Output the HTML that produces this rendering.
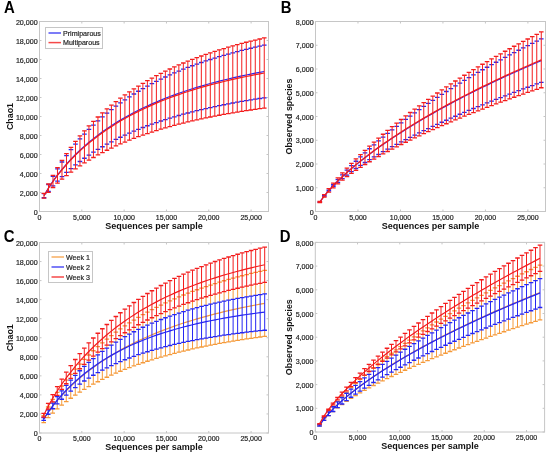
<!DOCTYPE html>
<html><head><meta charset="utf-8"><style>
html,body{margin:0;padding:0;background:#fff;}
svg{display:block;font-family:"Liberation Sans",sans-serif;will-change:transform;}
</style></head><body>
<svg width="550" height="454" viewBox="0 0 550 454">
<rect x="0" y="0" width="550" height="454" fill="#fff"/>
<text transform="translate(4.0,13.3) scale(0.95,1)" font-size="15.7" font-weight="bold" fill="#000">A</text>
<rect x="39.5" y="21.5" width="229" height="190" fill="none" stroke="#c6c6c6" stroke-width="1"/>
<line x1="39.50" y1="211.5" x2="39.50" y2="209.5" stroke="#c6c6c6" stroke-width="1"/>
<line x1="39.50" y1="21.5" x2="39.50" y2="23.5" stroke="#c6c6c6" stroke-width="1"/>
<text x="39.50" y="219.80" font-size="7" fill="#222222" stroke="#222222" stroke-width="0.18" text-anchor="middle">0</text>
<line x1="81.82" y1="211.5" x2="81.82" y2="209.5" stroke="#c6c6c6" stroke-width="1"/>
<line x1="81.82" y1="21.5" x2="81.82" y2="23.5" stroke="#c6c6c6" stroke-width="1"/>
<text x="81.82" y="219.80" font-size="7" fill="#222222" stroke="#222222" stroke-width="0.18" text-anchor="middle">5,000</text>
<line x1="124.14" y1="211.5" x2="124.14" y2="209.5" stroke="#c6c6c6" stroke-width="1"/>
<line x1="124.14" y1="21.5" x2="124.14" y2="23.5" stroke="#c6c6c6" stroke-width="1"/>
<text x="124.14" y="219.80" font-size="7" fill="#222222" stroke="#222222" stroke-width="0.18" text-anchor="middle">10,000</text>
<line x1="166.46" y1="211.5" x2="166.46" y2="209.5" stroke="#c6c6c6" stroke-width="1"/>
<line x1="166.46" y1="21.5" x2="166.46" y2="23.5" stroke="#c6c6c6" stroke-width="1"/>
<text x="166.46" y="219.80" font-size="7" fill="#222222" stroke="#222222" stroke-width="0.18" text-anchor="middle">15,000</text>
<line x1="208.78" y1="211.5" x2="208.78" y2="209.5" stroke="#c6c6c6" stroke-width="1"/>
<line x1="208.78" y1="21.5" x2="208.78" y2="23.5" stroke="#c6c6c6" stroke-width="1"/>
<text x="208.78" y="219.80" font-size="7" fill="#222222" stroke="#222222" stroke-width="0.18" text-anchor="middle">20,000</text>
<line x1="251.10" y1="211.5" x2="251.10" y2="209.5" stroke="#c6c6c6" stroke-width="1"/>
<line x1="251.10" y1="21.5" x2="251.10" y2="23.5" stroke="#c6c6c6" stroke-width="1"/>
<text x="251.10" y="219.80" font-size="7" fill="#222222" stroke="#222222" stroke-width="0.18" text-anchor="middle">25,000</text>
<line x1="39.5" y1="211.50" x2="41.5" y2="211.50" stroke="#c6c6c6" stroke-width="1"/>
<line x1="268.5" y1="211.50" x2="266.5" y2="211.50" stroke="#c6c6c6" stroke-width="1"/>
<text x="37.60" y="214.60" font-size="7.1" fill="#222222" stroke="#222222" stroke-width="0.18" text-anchor="end">0</text>
<line x1="39.5" y1="192.50" x2="41.5" y2="192.50" stroke="#c6c6c6" stroke-width="1"/>
<line x1="268.5" y1="192.50" x2="266.5" y2="192.50" stroke="#c6c6c6" stroke-width="1"/>
<text x="37.60" y="195.60" font-size="7.1" fill="#222222" stroke="#222222" stroke-width="0.18" text-anchor="end">2,000</text>
<line x1="39.5" y1="173.50" x2="41.5" y2="173.50" stroke="#c6c6c6" stroke-width="1"/>
<line x1="268.5" y1="173.50" x2="266.5" y2="173.50" stroke="#c6c6c6" stroke-width="1"/>
<text x="37.60" y="176.60" font-size="7.1" fill="#222222" stroke="#222222" stroke-width="0.18" text-anchor="end">4,000</text>
<line x1="39.5" y1="154.50" x2="41.5" y2="154.50" stroke="#c6c6c6" stroke-width="1"/>
<line x1="268.5" y1="154.50" x2="266.5" y2="154.50" stroke="#c6c6c6" stroke-width="1"/>
<text x="37.60" y="157.60" font-size="7.1" fill="#222222" stroke="#222222" stroke-width="0.18" text-anchor="end">6,000</text>
<line x1="39.5" y1="135.50" x2="41.5" y2="135.50" stroke="#c6c6c6" stroke-width="1"/>
<line x1="268.5" y1="135.50" x2="266.5" y2="135.50" stroke="#c6c6c6" stroke-width="1"/>
<text x="37.60" y="138.60" font-size="7.1" fill="#222222" stroke="#222222" stroke-width="0.18" text-anchor="end">8,000</text>
<line x1="39.5" y1="116.50" x2="41.5" y2="116.50" stroke="#c6c6c6" stroke-width="1"/>
<line x1="268.5" y1="116.50" x2="266.5" y2="116.50" stroke="#c6c6c6" stroke-width="1"/>
<text x="37.60" y="119.60" font-size="7.1" fill="#222222" stroke="#222222" stroke-width="0.18" text-anchor="end">10,000</text>
<line x1="39.5" y1="97.50" x2="41.5" y2="97.50" stroke="#c6c6c6" stroke-width="1"/>
<line x1="268.5" y1="97.50" x2="266.5" y2="97.50" stroke="#c6c6c6" stroke-width="1"/>
<text x="37.60" y="100.60" font-size="7.1" fill="#222222" stroke="#222222" stroke-width="0.18" text-anchor="end">12,000</text>
<line x1="39.5" y1="78.50" x2="41.5" y2="78.50" stroke="#c6c6c6" stroke-width="1"/>
<line x1="268.5" y1="78.50" x2="266.5" y2="78.50" stroke="#c6c6c6" stroke-width="1"/>
<text x="37.60" y="81.60" font-size="7.1" fill="#222222" stroke="#222222" stroke-width="0.18" text-anchor="end">14,000</text>
<line x1="39.5" y1="59.50" x2="41.5" y2="59.50" stroke="#c6c6c6" stroke-width="1"/>
<line x1="268.5" y1="59.50" x2="266.5" y2="59.50" stroke="#c6c6c6" stroke-width="1"/>
<text x="37.60" y="62.60" font-size="7.1" fill="#222222" stroke="#222222" stroke-width="0.18" text-anchor="end">16,000</text>
<line x1="39.5" y1="40.50" x2="41.5" y2="40.50" stroke="#c6c6c6" stroke-width="1"/>
<line x1="268.5" y1="40.50" x2="266.5" y2="40.50" stroke="#c6c6c6" stroke-width="1"/>
<text x="37.60" y="43.60" font-size="7.1" fill="#222222" stroke="#222222" stroke-width="0.18" text-anchor="end">18,000</text>
<line x1="39.5" y1="21.50" x2="41.5" y2="21.50" stroke="#c6c6c6" stroke-width="1"/>
<line x1="268.5" y1="21.50" x2="266.5" y2="21.50" stroke="#c6c6c6" stroke-width="1"/>
<text x="37.60" y="24.60" font-size="7.1" fill="#222222" stroke="#222222" stroke-width="0.18" text-anchor="end">20,000</text>
<path d="" stroke="#2626f2" stroke-width="1" fill="none"/>
<path d="M41.70 193.57H46.30M41.70 197.74H46.30M46.20 184.48H50.79M46.20 191.42H50.79M50.69 176.31H55.29M50.69 185.96H55.29M55.19 168.86H59.78M55.19 181.07H59.78M59.68 161.99H64.28M59.68 176.60H64.28M64.17 155.63H68.77M64.17 172.45H68.77M68.67 149.70H73.27M68.67 168.57H73.27M73.17 144.15H77.77M73.17 164.93H77.77M77.66 138.94H82.26M77.66 161.49H82.26M82.16 134.03H86.75M82.16 158.23H86.75M86.65 129.41H91.25M86.65 155.14H91.25M91.14 125.03H95.74M91.14 152.20H95.74M95.64 120.87H100.24M95.64 149.41H100.24M100.14 116.93H104.73M100.14 146.74H104.73M104.63 113.18H109.23M104.63 144.20H109.23M109.12 109.60H113.72M109.12 141.78H113.72M113.62 106.19H118.22M113.62 139.46H118.22M118.12 102.93H122.72M118.12 137.24H122.72M122.61 99.82H127.21M122.61 135.12H127.21M127.11 96.84H131.71M127.11 133.09H131.71M131.60 93.99H136.20M131.60 131.15H136.20M136.09 91.25H140.69M136.09 129.28H140.69M140.59 88.63H145.19M140.59 127.49H145.19M145.08 86.12H149.69M145.08 125.77H149.69M149.58 83.70H154.18M149.58 124.12H154.18M154.07 81.38H158.68M154.07 122.54H158.68M158.57 79.15H163.17M158.57 121.01H163.17M163.06 77.01H167.67M163.06 119.55H167.67M167.56 74.95H172.16M167.56 118.14H172.16M172.05 72.96H176.66M172.05 116.78H176.66M176.55 71.05H181.15M176.55 115.48H181.15M181.04 69.21H185.65M181.04 114.22H185.65M185.54 67.44H190.14M185.54 113.01H190.14M190.03 65.73H194.64M190.03 111.84H194.64M194.53 64.08H199.13M194.53 110.71H199.13M199.03 62.49H203.63M199.03 109.62H203.63M203.52 60.96H208.12M203.52 108.58H208.12M208.01 59.48H212.62M208.01 107.56H212.62M212.51 58.05H217.11M212.51 106.59H217.11M217.00 56.67H221.61M217.00 105.65H221.61M221.50 55.34H226.10M221.50 104.74H226.10M226.00 54.05H230.60M226.00 103.86H230.60M230.49 52.81H235.09M230.49 103.01H235.09M234.98 51.61H239.59M234.98 102.19H239.59M239.48 50.45H244.08M239.48 101.39H244.08M243.97 49.33H248.58M243.97 100.63H248.58M248.47 48.25H253.07M248.47 99.89H253.07M252.97 47.20H257.56M252.97 99.17H257.56M257.46 46.18H262.06M257.46 98.48H262.06M261.95 45.20H266.56M261.95 97.80H266.56" stroke="#2626f2" stroke-width="1.3" fill="none"/>
<polyline points="44.00,195.65 48.49,187.95 52.99,181.14 57.48,174.97 61.98,169.30 66.47,164.04 70.97,159.13 75.47,154.54 79.96,150.21 84.45,146.13 88.95,142.27 93.44,138.61 97.94,135.14 102.44,131.84 106.93,128.69 111.42,125.69 115.92,122.83 120.42,120.09 124.91,117.47 129.41,114.97 133.90,112.57 138.39,110.27 142.89,108.06 147.38,105.95 151.88,103.91 156.38,101.96 160.87,100.08 165.37,98.28 169.86,96.54 174.35,94.87 178.85,93.26 183.34,91.71 187.84,90.22 192.34,88.78 196.83,87.39 201.33,86.06 205.82,84.77 210.31,83.52 214.81,82.32 219.31,81.16 223.80,80.04 228.30,78.96 232.79,77.91 237.28,76.90 241.78,75.92 246.28,74.98 250.77,74.07 255.27,73.18 259.76,72.33 264.25,71.50" stroke="#2626f2" stroke-width="1.2" fill="none"/>
<path d="M44.00 193.44V198.21M48.49 184.00V192.42M52.99 175.43V187.51M57.48 167.56V183.17M61.98 160.30V179.21M66.47 153.57V175.55M70.97 147.30V172.11M75.47 141.44V168.88M79.96 135.96V165.81M84.45 130.80V162.90M88.95 125.94V160.12M93.44 121.34V157.48M97.94 116.99V154.96M102.44 112.86V152.56M106.93 108.93V150.26M111.42 105.19V148.06M115.92 101.62V145.96M120.42 98.22V143.95M124.91 94.97V142.03M129.41 91.86V140.19M133.90 88.88V138.42M138.39 86.03V136.72M142.89 83.29V135.10M147.38 80.66V133.54M151.88 78.14V132.04M156.38 75.72V130.59M160.87 73.39V129.21M165.37 71.16V127.88M169.86 69.00V126.60M174.35 66.93V125.36M178.85 64.94V124.17M183.34 63.02V123.03M187.84 61.17V121.93M192.34 59.38V120.86M196.83 57.66V119.84M201.33 56.01V118.85M205.82 54.41V117.90M210.31 52.86V116.98M214.81 51.37V116.09M219.31 49.93V115.23M223.80 48.55V114.41M228.30 47.20V113.61M232.79 45.91V112.83M237.28 44.65V112.09M241.78 43.44V111.37M246.28 42.27V110.67M250.77 41.14V110.00M255.27 40.05V109.34M259.76 38.99V108.71M264.25 37.96V108.10" stroke="#f31c1c" stroke-width="1" fill="none"/>
<path d="M41.70 193.44H46.30M41.70 198.21H46.30M46.20 184.00H50.79M46.20 192.42H50.79M50.69 175.43H55.29M50.69 187.51H55.29M55.19 167.56H59.78M55.19 183.17H59.78M59.68 160.30H64.28M59.68 179.21H64.28M64.17 153.57H68.77M64.17 175.55H68.77M68.67 147.30H73.27M68.67 172.11H73.27M73.17 141.44H77.77M73.17 168.88H77.77M77.66 135.96H82.26M77.66 165.81H82.26M82.16 130.80H86.75M82.16 162.90H86.75M86.65 125.94H91.25M86.65 160.12H91.25M91.14 121.34H95.74M91.14 157.48H95.74M95.64 116.99H100.24M95.64 154.96H100.24M100.14 112.86H104.73M100.14 152.56H104.73M104.63 108.93H109.23M104.63 150.26H109.23M109.12 105.19H113.72M109.12 148.06H113.72M113.62 101.62H118.22M113.62 145.96H118.22M118.12 98.22H122.72M118.12 143.95H122.72M122.61 94.97H127.21M122.61 142.03H127.21M127.11 91.86H131.71M127.11 140.19H131.71M131.60 88.88H136.20M131.60 138.42H136.20M136.09 86.03H140.69M136.09 136.72H140.69M140.59 83.29H145.19M140.59 135.10H145.19M145.08 80.66H149.69M145.08 133.54H149.69M149.58 78.14H154.18M149.58 132.04H154.18M154.07 75.72H158.68M154.07 130.59H158.68M158.57 73.39H163.17M158.57 129.21H163.17M163.06 71.16H167.67M163.06 127.88H167.67M167.56 69.00H172.16M167.56 126.60H172.16M172.05 66.93H176.66M172.05 125.36H176.66M176.55 64.94H181.15M176.55 124.17H181.15M181.04 63.02H185.65M181.04 123.03H185.65M185.54 61.17H190.14M185.54 121.93H190.14M190.03 59.38H194.64M190.03 120.86H194.64M194.53 57.66H199.13M194.53 119.84H199.13M199.03 56.01H203.63M199.03 118.85H203.63M203.52 54.41H208.12M203.52 117.90H208.12M208.01 52.86H212.62M208.01 116.98H212.62M212.51 51.37H217.11M212.51 116.09H217.11M217.00 49.93H221.61M217.00 115.23H221.61M221.50 48.55H226.10M221.50 114.41H226.10M226.00 47.20H230.60M226.00 113.61H230.60M230.49 45.91H235.09M230.49 112.83H235.09M234.98 44.65H239.59M234.98 112.09H239.59M239.48 43.44H244.08M239.48 111.37H244.08M243.97 42.27H248.58M243.97 110.67H248.58M248.47 41.14H253.07M248.47 110.00H253.07M252.97 40.05H257.56M252.97 109.34H257.56M257.46 38.99H262.06M257.46 108.71H262.06M261.95 37.96H266.56M261.95 108.10H266.56" stroke="#f31c1c" stroke-width="1.3" fill="none"/>
<polyline points="44.00,195.82 48.49,188.21 52.99,181.47 57.48,175.37 61.98,169.76 66.47,164.56 70.97,159.71 75.47,155.16 79.96,150.88 84.45,146.85 88.95,143.03 93.44,139.41 97.94,135.98 102.44,132.71 106.93,129.59 111.42,126.63 115.92,123.79 120.42,121.09 124.91,118.50 129.41,116.02 133.90,113.65 138.39,111.37 142.89,109.19 147.38,107.10 151.88,105.09 156.38,103.16 160.87,101.30 165.37,99.52 169.86,97.80 174.35,96.15 178.85,94.56 183.34,93.02 187.84,91.55 192.34,90.12 196.83,88.75 201.33,87.43 205.82,86.15 210.31,84.92 214.81,83.73 219.31,82.58 223.80,81.48 228.30,80.41 232.79,79.37 237.28,78.37 241.78,77.41 246.28,76.47 250.77,75.57 255.27,74.70 259.76,73.85 264.25,73.03" stroke="#f31c1c" stroke-width="1.2" fill="none"/>
<text x="154.00" y="228.70" font-size="9" font-weight="bold" fill="#111" text-anchor="middle">Sequences per sample</text>
<text transform="translate(12.90,116.50) rotate(-90)" font-size="8.9" font-weight="bold" fill="#111" text-anchor="middle">Chao1</text>
<rect x="45.5" y="27.5" width="57" height="21" fill="#fff" stroke="#c6c6c6" stroke-width="1"/>
<line x1="48.5" y1="33.00" x2="61.0" y2="33.00" stroke="#2626f2" stroke-width="1.5" stroke-opacity="0.8"/>
<text x="63.0" y="35.60" font-size="7.1" fill="#222222" stroke="#222222" stroke-width="0.18">Primiparous</text>
<line x1="48.5" y1="42.60" x2="61.0" y2="42.60" stroke="#f31c1c" stroke-width="1.5" stroke-opacity="0.8"/>
<text x="63.0" y="45.20" font-size="7.1" fill="#222222" stroke="#222222" stroke-width="0.18">Multiparous</text>
<text transform="translate(280.8,13.3) scale(0.95,1)" font-size="15.7" font-weight="bold" fill="#000">B</text>
<rect x="315.5" y="21.5" width="230" height="190" fill="none" stroke="#c6c6c6" stroke-width="1"/>
<line x1="315.50" y1="211.5" x2="315.50" y2="209.5" stroke="#c6c6c6" stroke-width="1"/>
<line x1="315.50" y1="21.5" x2="315.50" y2="23.5" stroke="#c6c6c6" stroke-width="1"/>
<text x="315.50" y="219.80" font-size="7" fill="#222222" stroke="#222222" stroke-width="0.18" text-anchor="middle">0</text>
<line x1="357.98" y1="211.5" x2="357.98" y2="209.5" stroke="#c6c6c6" stroke-width="1"/>
<line x1="357.98" y1="21.5" x2="357.98" y2="23.5" stroke="#c6c6c6" stroke-width="1"/>
<text x="357.98" y="219.80" font-size="7" fill="#222222" stroke="#222222" stroke-width="0.18" text-anchor="middle">5,000</text>
<line x1="400.46" y1="211.5" x2="400.46" y2="209.5" stroke="#c6c6c6" stroke-width="1"/>
<line x1="400.46" y1="21.5" x2="400.46" y2="23.5" stroke="#c6c6c6" stroke-width="1"/>
<text x="400.46" y="219.80" font-size="7" fill="#222222" stroke="#222222" stroke-width="0.18" text-anchor="middle">10,000</text>
<line x1="442.94" y1="211.5" x2="442.94" y2="209.5" stroke="#c6c6c6" stroke-width="1"/>
<line x1="442.94" y1="21.5" x2="442.94" y2="23.5" stroke="#c6c6c6" stroke-width="1"/>
<text x="442.94" y="219.80" font-size="7" fill="#222222" stroke="#222222" stroke-width="0.18" text-anchor="middle">15,000</text>
<line x1="485.42" y1="211.5" x2="485.42" y2="209.5" stroke="#c6c6c6" stroke-width="1"/>
<line x1="485.42" y1="21.5" x2="485.42" y2="23.5" stroke="#c6c6c6" stroke-width="1"/>
<text x="485.42" y="219.80" font-size="7" fill="#222222" stroke="#222222" stroke-width="0.18" text-anchor="middle">20,000</text>
<line x1="527.90" y1="211.5" x2="527.90" y2="209.5" stroke="#c6c6c6" stroke-width="1"/>
<line x1="527.90" y1="21.5" x2="527.90" y2="23.5" stroke="#c6c6c6" stroke-width="1"/>
<text x="527.90" y="219.80" font-size="7" fill="#222222" stroke="#222222" stroke-width="0.18" text-anchor="middle">25,000</text>
<line x1="315.5" y1="211.50" x2="317.5" y2="211.50" stroke="#c6c6c6" stroke-width="1"/>
<line x1="545.5" y1="211.50" x2="543.5" y2="211.50" stroke="#c6c6c6" stroke-width="1"/>
<text x="313.60" y="214.60" font-size="7.1" fill="#222222" stroke="#222222" stroke-width="0.18" text-anchor="end">0</text>
<line x1="315.5" y1="187.75" x2="317.5" y2="187.75" stroke="#c6c6c6" stroke-width="1"/>
<line x1="545.5" y1="187.75" x2="543.5" y2="187.75" stroke="#c6c6c6" stroke-width="1"/>
<text x="313.60" y="190.85" font-size="7.1" fill="#222222" stroke="#222222" stroke-width="0.18" text-anchor="end">1,000</text>
<line x1="315.5" y1="164.00" x2="317.5" y2="164.00" stroke="#c6c6c6" stroke-width="1"/>
<line x1="545.5" y1="164.00" x2="543.5" y2="164.00" stroke="#c6c6c6" stroke-width="1"/>
<text x="313.60" y="167.10" font-size="7.1" fill="#222222" stroke="#222222" stroke-width="0.18" text-anchor="end">2,000</text>
<line x1="315.5" y1="140.25" x2="317.5" y2="140.25" stroke="#c6c6c6" stroke-width="1"/>
<line x1="545.5" y1="140.25" x2="543.5" y2="140.25" stroke="#c6c6c6" stroke-width="1"/>
<text x="313.60" y="143.35" font-size="7.1" fill="#222222" stroke="#222222" stroke-width="0.18" text-anchor="end">3,000</text>
<line x1="315.5" y1="116.50" x2="317.5" y2="116.50" stroke="#c6c6c6" stroke-width="1"/>
<line x1="545.5" y1="116.50" x2="543.5" y2="116.50" stroke="#c6c6c6" stroke-width="1"/>
<text x="313.60" y="119.60" font-size="7.1" fill="#222222" stroke="#222222" stroke-width="0.18" text-anchor="end">4,000</text>
<line x1="315.5" y1="92.75" x2="317.5" y2="92.75" stroke="#c6c6c6" stroke-width="1"/>
<line x1="545.5" y1="92.75" x2="543.5" y2="92.75" stroke="#c6c6c6" stroke-width="1"/>
<text x="313.60" y="95.85" font-size="7.1" fill="#222222" stroke="#222222" stroke-width="0.18" text-anchor="end">5,000</text>
<line x1="315.5" y1="69.00" x2="317.5" y2="69.00" stroke="#c6c6c6" stroke-width="1"/>
<line x1="545.5" y1="69.00" x2="543.5" y2="69.00" stroke="#c6c6c6" stroke-width="1"/>
<text x="313.60" y="72.10" font-size="7.1" fill="#222222" stroke="#222222" stroke-width="0.18" text-anchor="end">6,000</text>
<line x1="315.5" y1="45.25" x2="317.5" y2="45.25" stroke="#c6c6c6" stroke-width="1"/>
<line x1="545.5" y1="45.25" x2="543.5" y2="45.25" stroke="#c6c6c6" stroke-width="1"/>
<text x="313.60" y="48.35" font-size="7.1" fill="#222222" stroke="#222222" stroke-width="0.18" text-anchor="end">7,000</text>
<line x1="315.5" y1="21.50" x2="317.5" y2="21.50" stroke="#c6c6c6" stroke-width="1"/>
<line x1="545.5" y1="21.50" x2="543.5" y2="21.50" stroke="#c6c6c6" stroke-width="1"/>
<text x="313.60" y="24.60" font-size="7.1" fill="#222222" stroke="#222222" stroke-width="0.18" text-anchor="end">8,000</text>
<path d="" stroke="#2626f2" stroke-width="1" fill="none"/>
<path d="M317.50 201.90H322.10M317.50 202.28H322.10M322.02 195.59H326.62M322.02 196.22H326.62M326.54 190.07H331.14M326.54 190.96H331.14M331.06 184.74H335.66M331.06 186.46H335.66M335.58 179.68H340.18M335.58 182.37H340.18M340.10 174.83H344.70M340.10 178.58H344.70M344.62 170.15H349.22M344.62 175.03H349.22M349.14 165.62H353.74M349.14 171.68H353.74M353.66 161.23H358.26M353.66 168.50H358.26M358.18 156.96H362.78M358.18 165.45H362.78M362.70 152.80H367.30M362.70 162.52H367.30M367.22 148.74H371.82M367.22 159.69H371.82M371.74 144.79H376.34M371.74 156.96H376.34M376.26 140.92H380.86M376.26 154.30H380.86M380.78 137.15H385.38M380.78 151.71H385.38M385.30 133.46H389.90M385.30 149.19H389.90M389.82 129.84H394.42M389.82 146.72H394.42M394.34 126.30H398.94M394.34 144.30H398.94M398.86 122.83H403.46M398.86 141.94H403.46M403.38 119.44H407.98M403.38 139.61H407.98M407.90 116.10H412.50M407.90 137.33H412.50M412.42 112.83H417.02M412.42 135.08H417.02M416.94 109.62H421.54M416.94 132.87H421.54M421.46 106.47H426.06M421.46 130.69H426.06M425.98 103.37H430.58M425.98 128.54H430.58M430.50 100.32H435.10M430.50 126.42H435.10M435.02 97.33H439.62M435.02 124.33H439.62M439.54 94.38H444.14M439.54 122.27H444.14M444.06 91.48H448.66M444.06 120.24H448.66M448.58 88.63H453.18M448.58 118.22H453.18M453.10 85.81H457.70M453.10 116.24H457.70M457.62 83.05H462.22M457.62 114.27H462.22M462.14 80.32H466.74M462.14 112.33H466.74M466.66 77.63H471.26M466.66 110.42H471.26M471.18 74.97H475.78M471.18 108.52H475.78M475.70 72.36H480.30M475.70 106.64H480.30M480.22 69.77H484.82M480.22 104.79H484.82M484.74 67.23H489.34M484.74 102.95H489.34M489.26 64.71H493.86M489.26 101.13H493.86M493.78 62.23H498.38M493.78 99.33H498.38M498.30 59.78H502.90M498.30 97.55H502.90M502.82 57.35H507.42M502.82 95.79H507.42M507.34 54.96H511.94M507.34 94.05H511.94M511.86 52.59H516.46M511.86 92.32H516.46M516.38 50.25H520.98M516.38 90.61H520.98M520.90 47.94H525.50M520.90 88.92H525.50M525.42 45.65H530.02M525.42 87.24H530.02M529.94 43.39H534.54M529.94 85.58H534.54M534.46 41.15H539.06M534.46 83.94H539.06M538.98 38.94H543.58M538.98 82.31H543.58" stroke="#2626f2" stroke-width="1.3" fill="none"/>
<polyline points="319.80,202.09 324.32,195.90 328.84,190.51 333.36,185.60 337.88,181.02 342.40,176.70 346.92,172.59 351.44,168.65 355.96,164.86 360.48,161.20 365.00,157.66 369.52,154.22 374.04,150.87 378.56,147.61 383.08,144.43 387.60,141.32 392.12,138.28 396.64,135.30 401.16,132.39 405.68,129.52 410.20,126.71 414.72,123.95 419.24,121.24 423.76,118.58 428.28,115.95 432.80,113.37 437.32,110.83 441.84,108.33 446.36,105.86 450.88,103.43 455.40,101.03 459.92,98.66 464.44,96.33 468.96,94.02 473.48,91.75 478.00,89.50 482.52,87.28 487.04,85.09 491.56,82.92 496.08,80.78 500.60,78.66 505.12,76.57 509.64,74.50 514.16,72.46 518.68,70.43 523.20,68.43 527.72,66.45 532.24,64.49 536.76,62.55 541.28,60.62" stroke="#2626f2" stroke-width="1.2" fill="none"/>
<path d="M319.80 201.44V202.65M324.32 194.67V196.98M328.84 188.67V192.15M333.36 183.12V187.82M337.88 177.88V183.86M342.40 172.87V180.18M346.92 168.06V176.72M351.44 163.42V173.45M355.96 158.92V170.34M360.48 154.54V167.36M365.00 150.28V164.50M369.52 146.13V161.74M374.04 142.07V159.07M378.56 138.11V156.48M383.08 134.23V153.96M387.60 130.43V151.51M392.12 126.71V149.12M396.64 123.06V146.78M401.16 119.48V144.49M405.68 115.97V142.25M410.20 112.52V140.06M414.72 109.13V137.90M419.24 105.80V135.78M423.76 102.53V133.69M428.28 99.31V131.64M432.80 96.14V129.62M437.32 93.02V127.63M441.84 89.95V125.66M446.36 86.93V123.73M450.88 83.95V121.81M455.40 81.01V119.93M459.92 78.12V118.06M464.44 75.27V116.22M468.96 72.46V114.40M473.48 69.68V112.60M478.00 66.95V110.82M482.52 64.25V109.07M487.04 61.58V107.33M491.56 58.95V105.60M496.08 56.35V103.90M500.60 53.78V102.22M505.12 51.24V100.55M509.64 48.73V98.89M514.16 46.26V97.26M518.68 43.81V95.64M523.20 41.39V94.04M527.72 38.99V92.45M532.24 36.62V90.87M536.76 34.28V89.31M541.28 31.96V87.77" stroke="#f31c1c" stroke-width="1" fill="none"/>
<path d="M317.50 201.44H322.10M317.50 202.65H322.10M322.02 194.67H326.62M322.02 196.98H326.62M326.54 188.67H331.14M326.54 192.15H331.14M331.06 183.12H335.66M331.06 187.82H335.66M335.58 177.88H340.18M335.58 183.86H340.18M340.10 172.87H344.70M340.10 180.18H344.70M344.62 168.06H349.22M344.62 176.72H349.22M349.14 163.42H353.74M349.14 173.45H353.74M353.66 158.92H358.26M353.66 170.34H358.26M358.18 154.54H362.78M358.18 167.36H362.78M362.70 150.28H367.30M362.70 164.50H367.30M367.22 146.13H371.82M367.22 161.74H371.82M371.74 142.07H376.34M371.74 159.07H376.34M376.26 138.11H380.86M376.26 156.48H380.86M380.78 134.23H385.38M380.78 153.96H385.38M385.30 130.43H389.90M385.30 151.51H389.90M389.82 126.71H394.42M389.82 149.12H394.42M394.34 123.06H398.94M394.34 146.78H398.94M398.86 119.48H403.46M398.86 144.49H403.46M403.38 115.97H407.98M403.38 142.25H407.98M407.90 112.52H412.50M407.90 140.06H412.50M412.42 109.13H417.02M412.42 137.90H417.02M416.94 105.80H421.54M416.94 135.78H421.54M421.46 102.53H426.06M421.46 133.69H426.06M425.98 99.31H430.58M425.98 131.64H430.58M430.50 96.14H435.10M430.50 129.62H435.10M435.02 93.02H439.62M435.02 127.63H439.62M439.54 89.95H444.14M439.54 125.66H444.14M444.06 86.93H448.66M444.06 123.73H448.66M448.58 83.95H453.18M448.58 121.81H453.18M453.10 81.01H457.70M453.10 119.93H457.70M457.62 78.12H462.22M457.62 118.06H462.22M462.14 75.27H466.74M462.14 116.22H466.74M466.66 72.46H471.26M466.66 114.40H471.26M471.18 69.68H475.78M471.18 112.60H475.78M475.70 66.95H480.30M475.70 110.82H480.30M480.22 64.25H484.82M480.22 109.07H484.82M484.74 61.58H489.34M484.74 107.33H489.34M489.26 58.95H493.86M489.26 105.60H493.86M493.78 56.35H498.38M493.78 103.90H498.38M498.30 53.78H502.90M498.30 102.22H502.90M502.82 51.24H507.42M502.82 100.55H507.42M507.34 48.73H511.94M507.34 98.89H511.94M511.86 46.26H516.46M511.86 97.26H516.46M516.38 43.81H520.98M516.38 95.64H520.98M520.90 41.39H525.50M520.90 94.04H525.50M525.42 38.99H530.02M525.42 92.45H530.02M529.94 36.62H534.54M529.94 90.87H534.54M534.46 34.28H539.06M534.46 89.31H539.06M538.98 31.96H543.58M538.98 87.77H543.58" stroke="#f31c1c" stroke-width="1.3" fill="none"/>
<polyline points="319.80,202.04 324.32,195.83 328.84,190.41 333.36,185.47 337.88,180.87 342.40,176.53 346.92,172.39 351.44,168.44 355.96,164.63 360.48,160.95 365.00,157.39 369.52,153.93 374.04,150.57 378.56,147.29 383.08,144.09 387.60,140.97 392.12,137.91 396.64,134.92 401.16,131.99 405.68,129.11 410.20,126.29 414.72,123.51 419.24,120.79 423.76,118.11 428.28,115.47 432.80,112.88 437.32,110.32 441.84,107.81 446.36,105.33 450.88,102.88 455.40,100.47 459.92,98.09 464.44,95.75 468.96,93.43 473.48,91.14 478.00,88.89 482.52,86.66 487.04,84.45 491.56,82.28 496.08,80.12 500.60,78.00 505.12,75.89 509.64,73.81 514.16,71.76 518.68,69.72 523.20,67.71 527.72,65.72 532.24,63.75 536.76,61.80 541.28,59.87" stroke="#f31c1c" stroke-width="1.2" fill="none"/>
<text x="430.50" y="228.70" font-size="9" font-weight="bold" fill="#111" text-anchor="middle">Sequences per sample</text>
<text transform="translate(292.30,116.50) rotate(-90)" font-size="8.9" font-weight="bold" fill="#111" text-anchor="middle">Observed species</text>
<text transform="translate(3.8,242.2) scale(0.95,1)" font-size="15.7" font-weight="bold" fill="#000">C</text>
<rect x="39.5" y="242.5" width="229" height="190.5" fill="none" stroke="#c6c6c6" stroke-width="1"/>
<line x1="39.50" y1="433.0" x2="39.50" y2="431.0" stroke="#c6c6c6" stroke-width="1"/>
<line x1="39.50" y1="242.5" x2="39.50" y2="244.5" stroke="#c6c6c6" stroke-width="1"/>
<text x="39.50" y="441.30" font-size="7" fill="#222222" stroke="#222222" stroke-width="0.18" text-anchor="middle">0</text>
<line x1="81.82" y1="433.0" x2="81.82" y2="431.0" stroke="#c6c6c6" stroke-width="1"/>
<line x1="81.82" y1="242.5" x2="81.82" y2="244.5" stroke="#c6c6c6" stroke-width="1"/>
<text x="81.82" y="441.30" font-size="7" fill="#222222" stroke="#222222" stroke-width="0.18" text-anchor="middle">5,000</text>
<line x1="124.14" y1="433.0" x2="124.14" y2="431.0" stroke="#c6c6c6" stroke-width="1"/>
<line x1="124.14" y1="242.5" x2="124.14" y2="244.5" stroke="#c6c6c6" stroke-width="1"/>
<text x="124.14" y="441.30" font-size="7" fill="#222222" stroke="#222222" stroke-width="0.18" text-anchor="middle">10,000</text>
<line x1="166.46" y1="433.0" x2="166.46" y2="431.0" stroke="#c6c6c6" stroke-width="1"/>
<line x1="166.46" y1="242.5" x2="166.46" y2="244.5" stroke="#c6c6c6" stroke-width="1"/>
<text x="166.46" y="441.30" font-size="7" fill="#222222" stroke="#222222" stroke-width="0.18" text-anchor="middle">15,000</text>
<line x1="208.78" y1="433.0" x2="208.78" y2="431.0" stroke="#c6c6c6" stroke-width="1"/>
<line x1="208.78" y1="242.5" x2="208.78" y2="244.5" stroke="#c6c6c6" stroke-width="1"/>
<text x="208.78" y="441.30" font-size="7" fill="#222222" stroke="#222222" stroke-width="0.18" text-anchor="middle">20,000</text>
<line x1="251.10" y1="433.0" x2="251.10" y2="431.0" stroke="#c6c6c6" stroke-width="1"/>
<line x1="251.10" y1="242.5" x2="251.10" y2="244.5" stroke="#c6c6c6" stroke-width="1"/>
<text x="251.10" y="441.30" font-size="7" fill="#222222" stroke="#222222" stroke-width="0.18" text-anchor="middle">25,000</text>
<line x1="39.5" y1="433.00" x2="41.5" y2="433.00" stroke="#c6c6c6" stroke-width="1"/>
<line x1="268.5" y1="433.00" x2="266.5" y2="433.00" stroke="#c6c6c6" stroke-width="1"/>
<text x="37.60" y="436.10" font-size="7.1" fill="#222222" stroke="#222222" stroke-width="0.18" text-anchor="end">0</text>
<line x1="39.5" y1="413.95" x2="41.5" y2="413.95" stroke="#c6c6c6" stroke-width="1"/>
<line x1="268.5" y1="413.95" x2="266.5" y2="413.95" stroke="#c6c6c6" stroke-width="1"/>
<text x="37.60" y="417.05" font-size="7.1" fill="#222222" stroke="#222222" stroke-width="0.18" text-anchor="end">2,000</text>
<line x1="39.5" y1="394.90" x2="41.5" y2="394.90" stroke="#c6c6c6" stroke-width="1"/>
<line x1="268.5" y1="394.90" x2="266.5" y2="394.90" stroke="#c6c6c6" stroke-width="1"/>
<text x="37.60" y="398.00" font-size="7.1" fill="#222222" stroke="#222222" stroke-width="0.18" text-anchor="end">4,000</text>
<line x1="39.5" y1="375.85" x2="41.5" y2="375.85" stroke="#c6c6c6" stroke-width="1"/>
<line x1="268.5" y1="375.85" x2="266.5" y2="375.85" stroke="#c6c6c6" stroke-width="1"/>
<text x="37.60" y="378.95" font-size="7.1" fill="#222222" stroke="#222222" stroke-width="0.18" text-anchor="end">6,000</text>
<line x1="39.5" y1="356.80" x2="41.5" y2="356.80" stroke="#c6c6c6" stroke-width="1"/>
<line x1="268.5" y1="356.80" x2="266.5" y2="356.80" stroke="#c6c6c6" stroke-width="1"/>
<text x="37.60" y="359.90" font-size="7.1" fill="#222222" stroke="#222222" stroke-width="0.18" text-anchor="end">8,000</text>
<line x1="39.5" y1="337.75" x2="41.5" y2="337.75" stroke="#c6c6c6" stroke-width="1"/>
<line x1="268.5" y1="337.75" x2="266.5" y2="337.75" stroke="#c6c6c6" stroke-width="1"/>
<text x="37.60" y="340.85" font-size="7.1" fill="#222222" stroke="#222222" stroke-width="0.18" text-anchor="end">10,000</text>
<line x1="39.5" y1="318.70" x2="41.5" y2="318.70" stroke="#c6c6c6" stroke-width="1"/>
<line x1="268.5" y1="318.70" x2="266.5" y2="318.70" stroke="#c6c6c6" stroke-width="1"/>
<text x="37.60" y="321.80" font-size="7.1" fill="#222222" stroke="#222222" stroke-width="0.18" text-anchor="end">12,000</text>
<line x1="39.5" y1="299.65" x2="41.5" y2="299.65" stroke="#c6c6c6" stroke-width="1"/>
<line x1="268.5" y1="299.65" x2="266.5" y2="299.65" stroke="#c6c6c6" stroke-width="1"/>
<text x="37.60" y="302.75" font-size="7.1" fill="#222222" stroke="#222222" stroke-width="0.18" text-anchor="end">14,000</text>
<line x1="39.5" y1="280.60" x2="41.5" y2="280.60" stroke="#c6c6c6" stroke-width="1"/>
<line x1="268.5" y1="280.60" x2="266.5" y2="280.60" stroke="#c6c6c6" stroke-width="1"/>
<text x="37.60" y="283.70" font-size="7.1" fill="#222222" stroke="#222222" stroke-width="0.18" text-anchor="end">16,000</text>
<line x1="39.5" y1="261.55" x2="41.5" y2="261.55" stroke="#c6c6c6" stroke-width="1"/>
<line x1="268.5" y1="261.55" x2="266.5" y2="261.55" stroke="#c6c6c6" stroke-width="1"/>
<text x="37.60" y="264.65" font-size="7.1" fill="#222222" stroke="#222222" stroke-width="0.18" text-anchor="end">18,000</text>
<line x1="39.5" y1="242.50" x2="41.5" y2="242.50" stroke="#c6c6c6" stroke-width="1"/>
<line x1="268.5" y1="242.50" x2="266.5" y2="242.50" stroke="#c6c6c6" stroke-width="1"/>
<text x="37.60" y="245.60" font-size="7.1" fill="#222222" stroke="#222222" stroke-width="0.18" text-anchor="end">20,000</text>
<path d="M43.70 417.02V417.66M43.70 420.42V422.65M48.21 409.07V409.96M48.21 414.23V417.56M52.72 401.94V403.03M52.72 408.75V413.04M57.23 395.42V396.68M57.23 403.79V408.91M61.74 389.37V390.79M61.74 399.24V405.10M66.25 383.73V385.30M66.25 395.05V401.55M70.76 378.44V380.15M70.76 391.17V398.23M75.27 373.45V375.31M75.27 387.55V395.10M79.78 368.74V370.76M79.78 384.18V392.14M84.29 364.28V366.46M84.29 381.02V389.34M88.80 360.06V362.40M88.80 378.05V386.69M93.31 356.04V358.56M93.31 375.27V384.16M97.82 352.22V354.92M97.82 372.65V381.76M102.33 348.58V351.47M102.33 370.18V379.46M106.84 345.11V348.20M106.84 367.86V377.27M111.35 341.80V345.10M111.35 365.66V375.17M115.86 338.64V342.15M115.86 363.58V373.17M120.37 335.62V339.35M120.37 361.61V371.25M124.88 332.73V336.69M124.88 359.74V369.41M129.39 329.96V334.15M129.39 357.98V367.64M133.90 327.31V331.74M133.90 356.30V365.95M138.41 324.77V329.45M138.41 354.70V364.32M142.92 322.34V327.26M142.92 353.19V362.76M147.43 320.01V325.18M147.43 351.75V361.25M151.94 317.77V323.19M151.94 350.37V359.81M156.45 315.62V321.30M156.45 349.07V358.41M160.96 313.55V319.49M160.96 347.82V357.07M165.47 311.57V317.76M165.47 346.63V355.78M169.98 309.66V316.11M169.98 345.50V354.54M174.49 307.83V314.54M174.49 344.42V353.34M179.00 306.06V313.04M179.00 343.38V352.19M183.51 304.36V311.60M183.51 342.40V351.07M188.02 302.73V310.22M188.02 341.45V350.00M192.53 301.16V308.91M192.53 340.55V348.96M197.04 299.64V307.65M197.04 339.68V347.96M201.55 298.18V306.45M201.55 338.85V347.00M206.06 296.77V305.29M206.06 338.06V346.06M210.57 295.42V304.19M210.57 337.30V345.16M215.08 294.11V303.13M215.08 336.57V344.29M219.59 292.85V302.11M219.59 335.87V343.45M224.10 291.63V301.14M224.10 335.20V342.64M228.61 290.46V300.21M228.61 334.56V341.85M233.12 289.32V299.31M233.12 333.94V341.09M237.63 288.23V298.45M237.63 333.34V340.35M242.14 287.17V297.63M242.14 332.77V339.64M246.65 286.15V296.84M246.65 332.22V338.95M251.16 285.17V296.08M251.16 331.70V338.29M255.67 284.22V295.35M255.67 331.19V337.64M260.18 283.30V294.64M260.18 330.70V337.02M264.69 282.41V293.97M264.69 330.23V336.41" stroke="#f59a3a" stroke-width="1" fill="none"/>
<path d="M41.40 415.56H46.00M41.40 422.65H46.00M45.91 407.00H50.51M45.91 417.56H50.51M50.42 399.37H55.02M50.42 413.04H55.02M54.93 392.42H59.53M54.93 408.91H59.53M59.44 386.01H64.04M59.44 405.10H64.04M63.95 380.03H68.55M63.95 401.55H68.55M68.46 374.43H73.06M68.46 398.23H73.06M72.97 369.15H77.57M72.97 395.10H77.57M77.48 364.17H82.08M77.48 392.14H82.08M81.99 359.46H86.59M81.99 389.34H86.59M86.50 354.98H91.10M86.50 386.69H91.10M91.01 350.73H95.61M91.01 384.16H95.61M95.52 346.68H100.12M95.52 381.76H100.12M100.03 342.81H104.63M100.03 379.46H104.63M104.54 339.12H109.14M104.54 377.27H109.14M109.05 335.59H113.65M109.05 375.17H113.65M113.56 332.21H118.16M113.56 373.17H118.16M118.07 328.97H122.67M118.07 371.25H122.67M122.58 325.87H127.18M122.58 369.41H127.18M127.09 322.90H131.69M127.09 367.64H131.69M131.60 320.04H136.20M131.60 365.95H136.20M136.11 317.30H140.71M136.11 364.32H140.71M140.62 314.67H145.22M140.62 362.76H145.22M145.13 312.14H149.73M145.13 361.25H149.73M149.64 309.70H154.24M149.64 359.81H154.24M154.15 307.36H158.75M154.15 358.41H158.75M158.66 305.10H163.26M158.66 357.07H163.26M163.17 302.93H167.77M163.17 355.78H167.77M167.68 300.83H172.28M167.68 354.54H172.28M172.19 298.81H176.79M172.19 353.34H176.79M176.70 296.87H181.30M176.70 352.19H181.30M181.21 294.99H185.81M181.21 351.07H185.81M185.72 293.18H190.32M185.72 350.00H190.32M190.23 291.43H194.83M190.23 348.96H194.83M194.74 289.75H199.34M194.74 347.96H199.34M199.25 288.12H203.85M199.25 347.00H203.85M203.76 286.55H208.36M203.76 346.06H208.36M208.27 285.03H212.87M208.27 345.16H212.87M212.78 283.56H217.38M212.78 344.29H217.38M217.29 282.14H221.89M217.29 343.45H221.89M221.80 280.77H226.40M221.80 342.64H226.40M226.31 279.45H230.91M226.31 341.85H230.91M230.82 278.17H235.42M230.82 341.09H235.42M235.33 276.93H239.93M235.33 340.35H239.93M239.84 275.73H244.44M239.84 339.64H244.44M244.35 274.57H248.95M244.35 338.95H248.95M248.86 273.45H253.46M248.86 338.29H253.46M253.37 272.36H257.97M253.37 337.64H257.97M257.88 271.31H262.48M257.88 337.02H262.48M262.39 270.30H266.99M262.39 336.41H266.99" stroke="#f59a3a" stroke-width="1.3" fill="none"/>
<polyline points="43.70,419.10 48.21,412.28 52.72,406.21 57.23,400.67 61.74,395.55 66.25,390.79 70.76,386.33 75.27,382.13 79.78,378.16 84.29,374.40 88.80,370.84 93.31,367.45 97.82,364.22 102.33,361.13 106.84,358.19 111.35,355.38 115.86,352.69 120.37,350.11 124.88,347.64 129.39,345.27 133.90,343.00 138.41,340.81 142.92,338.71 147.43,336.69 151.94,334.75 156.45,332.88 160.96,331.09 165.47,329.35 169.98,327.69 174.49,326.08 179.00,324.53 183.51,323.03 188.02,321.59 192.53,320.20 197.04,318.85 201.55,317.56 206.06,316.31 210.57,315.10 215.08,313.93 219.59,312.80 224.10,311.70 228.61,310.65 233.12,309.63 237.63,308.64 242.14,307.69 246.65,306.76 251.16,305.87 255.67,305.00 260.18,304.17 264.69,303.36" stroke="#f59a3a" stroke-width="1.2" fill="none"/>
<path d="M43.70 417.66V420.42M48.21 409.96V414.23M52.72 403.03V408.75M57.23 396.68V403.79M61.74 390.79V399.24M66.25 385.30V395.05M70.76 380.15V391.17M75.27 375.31V387.55M79.78 370.76V384.18M84.29 366.46V381.02M88.80 362.40V378.05M93.31 358.56V375.27M97.82 354.92V372.65M102.33 351.47V370.18M106.84 348.20V367.86M111.35 345.10V365.66M115.86 342.15V363.58M120.37 339.35V361.61M124.88 336.69V359.74M129.39 334.15V357.98M133.90 331.74V356.30M138.41 329.45V354.70M142.92 327.26V353.19M147.43 325.18V351.75M151.94 323.19V350.37M156.45 321.30V349.07M160.96 319.49V347.82M165.47 317.76V346.63M169.98 316.11V345.50M174.49 314.54V344.42M179.00 313.04V343.38M183.51 311.60V342.40M188.02 310.22V341.45M192.53 308.91V340.55M197.04 307.65V339.68M201.55 306.45V338.85M206.06 305.29V338.06M210.57 304.19V337.30M215.08 303.13V336.57M219.59 302.11V335.87M224.10 301.14V335.20M228.61 300.21V334.56M233.12 299.31V333.94M237.63 298.45V333.34M242.14 297.63V332.77M246.65 296.84V332.22M251.16 296.08V331.70M255.67 295.35V331.19M260.18 294.64V330.70M264.69 293.97V330.23" stroke="#2626f2" stroke-width="1" fill="none"/>
<path d="M41.40 417.66H46.00M41.40 420.42H46.00M45.91 409.96H50.51M45.91 414.23H50.51M50.42 403.03H55.02M50.42 408.75H55.02M54.93 396.68H59.53M54.93 403.79H59.53M59.44 390.79H64.04M59.44 399.24H64.04M63.95 385.30H68.55M63.95 395.05H68.55M68.46 380.15H73.06M68.46 391.17H73.06M72.97 375.31H77.57M72.97 387.55H77.57M77.48 370.76H82.08M77.48 384.18H82.08M81.99 366.46H86.59M81.99 381.02H86.59M86.50 362.40H91.10M86.50 378.05H91.10M91.01 358.56H95.61M91.01 375.27H95.61M95.52 354.92H100.12M95.52 372.65H100.12M100.03 351.47H104.63M100.03 370.18H104.63M104.54 348.20H109.14M104.54 367.86H109.14M109.05 345.10H113.65M109.05 365.66H113.65M113.56 342.15H118.16M113.56 363.58H118.16M118.07 339.35H122.67M118.07 361.61H122.67M122.58 336.69H127.18M122.58 359.74H127.18M127.09 334.15H131.69M127.09 357.98H131.69M131.60 331.74H136.20M131.60 356.30H136.20M136.11 329.45H140.71M136.11 354.70H140.71M140.62 327.26H145.22M140.62 353.19H145.22M145.13 325.18H149.73M145.13 351.75H149.73M149.64 323.19H154.24M149.64 350.37H154.24M154.15 321.30H158.75M154.15 349.07H158.75M158.66 319.49H163.26M158.66 347.82H163.26M163.17 317.76H167.77M163.17 346.63H167.77M167.68 316.11H172.28M167.68 345.50H172.28M172.19 314.54H176.79M172.19 344.42H176.79M176.70 313.04H181.30M176.70 343.38H181.30M181.21 311.60H185.81M181.21 342.40H185.81M185.72 310.22H190.32M185.72 341.45H190.32M190.23 308.91H194.83M190.23 340.55H194.83M194.74 307.65H199.34M194.74 339.68H199.34M199.25 306.45H203.85M199.25 338.85H203.85M203.76 305.29H208.36M203.76 338.06H208.36M208.27 304.19H212.87M208.27 337.30H212.87M212.78 303.13H217.38M212.78 336.57H217.38M217.29 302.11H221.89M217.29 335.87H221.89M221.80 301.14H226.40M221.80 335.20H226.40M226.31 300.21H230.91M226.31 334.56H230.91M230.82 299.31H235.42M230.82 333.94H235.42M235.33 298.45H239.93M235.33 333.34H239.93M239.84 297.63H244.44M239.84 332.77H244.44M244.35 296.84H248.95M244.35 332.22H248.95M248.86 296.08H253.46M248.86 331.70H253.46M253.37 295.35H257.97M253.37 331.19H257.97M257.88 294.64H262.48M257.88 330.70H262.48M262.39 293.97H266.99M262.39 330.23H266.99" stroke="#2626f2" stroke-width="1.3" fill="none"/>
<polyline points="43.70,419.04 48.21,412.09 52.72,405.89 57.23,400.23 61.74,395.02 66.25,390.18 70.76,385.66 75.27,381.43 79.78,377.47 84.29,373.74 88.80,370.23 93.31,366.91 97.82,363.79 102.33,360.83 106.84,358.03 111.35,355.38 115.86,352.86 120.37,350.48 124.88,348.22 129.39,346.07 133.90,344.02 138.41,342.08 142.92,340.22 147.43,338.46 151.94,336.78 156.45,335.18 160.96,333.65 165.47,332.20 169.98,330.81 174.49,329.48 179.00,328.21 183.51,327.00 188.02,325.84 192.53,324.73 197.04,323.67 201.55,322.65 206.06,321.68 210.57,320.74 215.08,319.85 219.59,318.99 224.10,318.17 228.61,317.38 233.12,316.62 237.63,315.90 242.14,315.20 246.65,314.53 251.16,313.89 255.67,313.27 260.18,312.67 264.69,312.10" stroke="#2626f2" stroke-width="1.2" fill="none"/>
<path d="M43.70 413.28V417.02M48.21 403.45V409.07M52.72 394.66V401.94M57.23 386.60V395.42M61.74 379.14V389.37M66.25 372.17V383.73M70.76 365.63V378.44M75.27 359.48V373.45M79.78 353.66V368.74M84.29 348.16V364.28M88.80 342.94V360.06M93.31 337.98V356.04M97.82 333.26V352.22M102.33 328.77V348.58M106.84 324.49V345.11M111.35 320.40V341.80M115.86 316.50V338.64M120.37 312.77V335.62M124.88 309.20V332.73M129.39 305.79V329.96M133.90 302.51V327.31M138.41 299.38V324.77M142.92 296.38V322.34M147.43 293.49V320.01M151.94 290.73V317.77M156.45 288.07V315.62M160.96 285.52V313.55M165.47 283.07V311.57M169.98 280.72V309.66M174.49 278.45V307.83M179.00 276.28V306.06M183.51 274.18V304.36M188.02 272.16V302.73M192.53 270.22V301.16M197.04 268.35V299.64M201.55 266.55V298.18M206.06 264.81V296.77M210.57 263.14V295.42M215.08 261.52V294.11M219.59 259.96V292.85M224.10 258.46V291.63M228.61 257.01V290.46M233.12 255.61V289.32M237.63 254.26V288.23M242.14 252.96V287.17M246.65 251.70V286.15M251.16 250.48V285.17M255.67 249.31V284.22M260.18 248.17V283.30M264.69 247.07V282.41" stroke="#f31c1c" stroke-width="1" fill="none"/>
<path d="M41.40 413.28H46.00M41.40 417.02H46.00M45.91 403.45H50.51M45.91 409.07H50.51M50.42 394.66H55.02M50.42 401.94H55.02M54.93 386.60H59.53M54.93 395.42H59.53M59.44 379.14H64.04M59.44 389.37H64.04M63.95 372.17H68.55M63.95 383.73H68.55M68.46 365.63H73.06M68.46 378.44H73.06M72.97 359.48H77.57M72.97 373.45H77.57M77.48 353.66H82.08M77.48 368.74H82.08M81.99 348.16H86.59M81.99 364.28H86.59M86.50 342.94H91.10M86.50 360.06H91.10M91.01 337.98H95.61M91.01 356.04H95.61M95.52 333.26H100.12M95.52 352.22H100.12M100.03 328.77H104.63M100.03 348.58H104.63M104.54 324.49H109.14M104.54 345.11H109.14M109.05 320.40H113.65M109.05 341.80H113.65M113.56 316.50H118.16M113.56 338.64H118.16M118.07 312.77H122.67M118.07 335.62H122.67M122.58 309.20H127.18M122.58 332.73H127.18M127.09 305.79H131.69M127.09 329.96H131.69M131.60 302.51H136.20M131.60 327.31H136.20M136.11 299.38H140.71M136.11 324.77H140.71M140.62 296.38H145.22M140.62 322.34H145.22M145.13 293.49H149.73M145.13 320.01H149.73M149.64 290.73H154.24M149.64 317.77H154.24M154.15 288.07H158.75M154.15 315.62H158.75M158.66 285.52H163.26M158.66 313.55H163.26M163.17 283.07H167.77M163.17 311.57H167.77M167.68 280.72H172.28M167.68 309.66H172.28M172.19 278.45H176.79M172.19 307.83H176.79M176.70 276.28H181.30M176.70 306.06H181.30M181.21 274.18H185.81M181.21 304.36H185.81M185.72 272.16H190.32M185.72 302.73H190.32M190.23 270.22H194.83M190.23 301.16H194.83M194.74 268.35H199.34M194.74 299.64H199.34M199.25 266.55H203.85M199.25 298.18H203.85M203.76 264.81H208.36M203.76 296.77H208.36M208.27 263.14H212.87M208.27 295.42H212.87M212.78 261.52H217.38M212.78 294.11H217.38M217.29 259.96H221.89M217.29 292.85H221.89M221.80 258.46H226.40M221.80 291.63H226.40M226.31 257.01H230.91M226.31 290.46H230.91M230.82 255.61H235.42M230.82 289.32H235.42M235.33 254.26H239.93M235.33 288.23H239.93M239.84 252.96H244.44M239.84 287.17H244.44M244.35 251.70H248.95M244.35 286.15H248.95M248.86 250.48H253.46M248.86 285.17H253.46M253.37 249.31H257.97M253.37 284.22H257.97M257.88 248.17H262.48M257.88 283.30H262.48M262.39 247.07H266.99M262.39 282.41H266.99" stroke="#f31c1c" stroke-width="1.3" fill="none"/>
<polyline points="43.70,415.15 48.21,406.26 52.72,398.30 57.23,391.01 61.74,384.26 66.25,377.95 70.76,372.04 75.27,366.46 79.78,361.20 84.29,356.22 88.80,351.50 93.31,347.01 97.82,342.74 102.33,338.68 106.84,334.80 111.35,331.10 115.86,327.57 120.37,324.19 124.88,320.96 129.39,317.87 133.90,314.91 138.41,312.08 142.92,309.36 147.43,306.75 151.94,304.25 156.45,301.85 160.96,299.54 165.47,297.32 169.98,295.19 174.49,293.14 179.00,291.17 183.51,289.27 188.02,287.45 192.53,285.69 197.04,283.99 201.55,282.36 206.06,280.79 210.57,279.28 215.08,277.82 219.59,276.41 224.10,275.05 228.61,273.73 233.12,272.47 237.63,271.25 242.14,270.07 246.65,268.93 251.16,267.83 255.67,266.76 260.18,265.73 264.69,264.74" stroke="#f31c1c" stroke-width="1.2" fill="none"/>
<text x="154.00" y="450.20" font-size="9" font-weight="bold" fill="#111" text-anchor="middle">Sequences per sample</text>
<text transform="translate(12.90,337.75) rotate(-90)" font-size="8.9" font-weight="bold" fill="#111" text-anchor="middle">Chao1</text>
<rect x="48.5" y="251.5" width="44" height="31" fill="#fff" stroke="#c6c6c6" stroke-width="1"/>
<line x1="51.5" y1="257.00" x2="64.0" y2="257.00" stroke="#f59a3a" stroke-width="1.5" stroke-opacity="0.8"/>
<text x="66.0" y="259.60" font-size="7.1" fill="#222222" stroke="#222222" stroke-width="0.18">Week 1</text>
<line x1="51.5" y1="267.00" x2="64.0" y2="267.00" stroke="#2626f2" stroke-width="1.5" stroke-opacity="0.8"/>
<text x="66.0" y="269.60" font-size="7.1" fill="#222222" stroke="#222222" stroke-width="0.18">Week 2</text>
<line x1="51.5" y1="277.00" x2="64.0" y2="277.00" stroke="#f31c1c" stroke-width="1.5" stroke-opacity="0.8"/>
<text x="66.0" y="279.60" font-size="7.1" fill="#222222" stroke="#222222" stroke-width="0.18">Week 3</text>
<text transform="translate(279.8,242.2) scale(0.95,1)" font-size="15.7" font-weight="bold" fill="#000">D</text>
<rect x="315.3" y="242.4" width="229.3" height="189.6" fill="none" stroke="#c6c6c6" stroke-width="1"/>
<line x1="315.30" y1="432.0" x2="315.30" y2="430.0" stroke="#c6c6c6" stroke-width="1"/>
<line x1="315.30" y1="242.4" x2="315.30" y2="244.4" stroke="#c6c6c6" stroke-width="1"/>
<text x="315.30" y="440.30" font-size="7" fill="#222222" stroke="#222222" stroke-width="0.18" text-anchor="middle">0</text>
<line x1="357.54" y1="432.0" x2="357.54" y2="430.0" stroke="#c6c6c6" stroke-width="1"/>
<line x1="357.54" y1="242.4" x2="357.54" y2="244.4" stroke="#c6c6c6" stroke-width="1"/>
<text x="357.54" y="440.30" font-size="7" fill="#222222" stroke="#222222" stroke-width="0.18" text-anchor="middle">5,000</text>
<line x1="399.78" y1="432.0" x2="399.78" y2="430.0" stroke="#c6c6c6" stroke-width="1"/>
<line x1="399.78" y1="242.4" x2="399.78" y2="244.4" stroke="#c6c6c6" stroke-width="1"/>
<text x="399.78" y="440.30" font-size="7" fill="#222222" stroke="#222222" stroke-width="0.18" text-anchor="middle">10,000</text>
<line x1="442.02" y1="432.0" x2="442.02" y2="430.0" stroke="#c6c6c6" stroke-width="1"/>
<line x1="442.02" y1="242.4" x2="442.02" y2="244.4" stroke="#c6c6c6" stroke-width="1"/>
<text x="442.02" y="440.30" font-size="7" fill="#222222" stroke="#222222" stroke-width="0.18" text-anchor="middle">15,000</text>
<line x1="484.26" y1="432.0" x2="484.26" y2="430.0" stroke="#c6c6c6" stroke-width="1"/>
<line x1="484.26" y1="242.4" x2="484.26" y2="244.4" stroke="#c6c6c6" stroke-width="1"/>
<text x="484.26" y="440.30" font-size="7" fill="#222222" stroke="#222222" stroke-width="0.18" text-anchor="middle">20,000</text>
<line x1="526.50" y1="432.0" x2="526.50" y2="430.0" stroke="#c6c6c6" stroke-width="1"/>
<line x1="526.50" y1="242.4" x2="526.50" y2="244.4" stroke="#c6c6c6" stroke-width="1"/>
<text x="526.50" y="440.30" font-size="7" fill="#222222" stroke="#222222" stroke-width="0.18" text-anchor="middle">25,000</text>
<line x1="315.3" y1="432.00" x2="317.3" y2="432.00" stroke="#c6c6c6" stroke-width="1"/>
<line x1="544.6" y1="432.00" x2="542.6" y2="432.00" stroke="#c6c6c6" stroke-width="1"/>
<text x="313.40" y="435.10" font-size="7.1" fill="#222222" stroke="#222222" stroke-width="0.18" text-anchor="end">0</text>
<line x1="315.3" y1="408.30" x2="317.3" y2="408.30" stroke="#c6c6c6" stroke-width="1"/>
<line x1="544.6" y1="408.30" x2="542.6" y2="408.30" stroke="#c6c6c6" stroke-width="1"/>
<text x="313.40" y="411.40" font-size="7.1" fill="#222222" stroke="#222222" stroke-width="0.18" text-anchor="end">1,000</text>
<line x1="315.3" y1="384.60" x2="317.3" y2="384.60" stroke="#c6c6c6" stroke-width="1"/>
<line x1="544.6" y1="384.60" x2="542.6" y2="384.60" stroke="#c6c6c6" stroke-width="1"/>
<text x="313.40" y="387.70" font-size="7.1" fill="#222222" stroke="#222222" stroke-width="0.18" text-anchor="end">2,000</text>
<line x1="315.3" y1="360.90" x2="317.3" y2="360.90" stroke="#c6c6c6" stroke-width="1"/>
<line x1="544.6" y1="360.90" x2="542.6" y2="360.90" stroke="#c6c6c6" stroke-width="1"/>
<text x="313.40" y="364.00" font-size="7.1" fill="#222222" stroke="#222222" stroke-width="0.18" text-anchor="end">3,000</text>
<line x1="315.3" y1="337.20" x2="317.3" y2="337.20" stroke="#c6c6c6" stroke-width="1"/>
<line x1="544.6" y1="337.20" x2="542.6" y2="337.20" stroke="#c6c6c6" stroke-width="1"/>
<text x="313.40" y="340.30" font-size="7.1" fill="#222222" stroke="#222222" stroke-width="0.18" text-anchor="end">4,000</text>
<line x1="315.3" y1="313.50" x2="317.3" y2="313.50" stroke="#c6c6c6" stroke-width="1"/>
<line x1="544.6" y1="313.50" x2="542.6" y2="313.50" stroke="#c6c6c6" stroke-width="1"/>
<text x="313.40" y="316.60" font-size="7.1" fill="#222222" stroke="#222222" stroke-width="0.18" text-anchor="end">5,000</text>
<line x1="315.3" y1="289.80" x2="317.3" y2="289.80" stroke="#c6c6c6" stroke-width="1"/>
<line x1="544.6" y1="289.80" x2="542.6" y2="289.80" stroke="#c6c6c6" stroke-width="1"/>
<text x="313.40" y="292.90" font-size="7.1" fill="#222222" stroke="#222222" stroke-width="0.18" text-anchor="end">6,000</text>
<line x1="315.3" y1="266.10" x2="317.3" y2="266.10" stroke="#c6c6c6" stroke-width="1"/>
<line x1="544.6" y1="266.10" x2="542.6" y2="266.10" stroke="#c6c6c6" stroke-width="1"/>
<text x="313.40" y="269.20" font-size="7.1" fill="#222222" stroke="#222222" stroke-width="0.18" text-anchor="end">7,000</text>
<line x1="315.3" y1="242.40" x2="317.3" y2="242.40" stroke="#c6c6c6" stroke-width="1"/>
<line x1="544.6" y1="242.40" x2="542.6" y2="242.40" stroke="#c6c6c6" stroke-width="1"/>
<text x="313.40" y="245.50" font-size="7.1" fill="#222222" stroke="#222222" stroke-width="0.18" text-anchor="end">8,000</text>
<path d="M328.50 411.90V411.91M333.00 406.51V406.73M333.00 411.49V411.54M337.50 401.46V401.96M337.50 407.62V407.90M342.00 396.68V397.49M342.00 403.99V404.55M346.50 392.10V393.25M346.50 400.55V401.41M351.00 387.69V389.20M351.00 397.26V398.46M355.50 383.44V385.32M355.50 394.11V395.65M360.00 379.31V381.57M360.00 391.07V392.97M364.50 375.30V377.95M364.50 388.14V390.39M369.00 371.52V374.44M369.00 385.29V387.91M373.50 368.03V371.03M373.50 382.52V385.50M378.00 364.64V367.70M378.00 379.82V383.16M382.50 361.33V364.46M382.50 377.19V380.89M387.00 358.10V361.29M387.00 374.62V378.67M391.50 354.93V358.20M391.50 372.10V376.50M396.00 351.82V355.16M396.00 369.64V374.38M400.50 348.78V352.19M400.50 367.23V372.30M405.00 345.79V349.27M405.00 364.86V370.26M409.50 342.85V346.41M409.50 362.54V368.25M414.00 339.95V343.60M414.00 360.25V366.28M418.50 337.10V340.83M418.50 358.01V364.34M423.00 334.29V338.11M423.00 355.80V362.42M427.50 331.52V335.43M427.50 353.63V360.54M432.00 328.79V332.80M432.00 351.49V358.68M436.50 326.10V330.20M436.50 349.38V356.85M441.00 323.43V327.64M441.00 347.30V355.04M445.50 320.81V325.12M445.50 345.26V353.25M450.00 318.21V322.63M450.00 343.24V351.48M454.50 315.64V320.17M454.50 341.24V349.74M459.00 313.10V317.75M459.00 339.28V348.02M463.50 310.59V315.36M463.50 337.34V346.31M468.00 308.11V313.00M468.00 335.42V344.62M472.50 305.65V310.66M472.50 333.52V342.96M477.00 303.22V308.36M477.00 331.65V341.31M481.50 300.81V306.08M481.50 329.80V339.67M486.00 298.42V303.83M486.00 327.98V338.06M490.50 296.06V301.60M490.50 326.17V336.46M495.00 293.72V299.40M495.00 324.38V334.88M499.50 291.41V297.22M499.50 322.61V333.31M504.00 289.11V295.07M504.00 320.87V331.76M508.50 286.83V292.93M508.50 319.13V330.22M513.00 284.58V290.82M513.00 317.42V328.70M517.50 282.34V288.74M517.50 315.73V327.19M522.00 280.12V286.67M522.00 314.05V325.70M526.50 277.92V284.62M526.50 312.39V324.22M531.00 275.74V282.60M531.00 310.74V322.75M535.50 273.58V280.59M535.50 309.12V321.30M540.00 271.44V278.60M540.00 307.50V319.86" stroke="#f59a3a" stroke-width="1" fill="none"/>
<path d="M317.20 424.79H321.80M317.20 425.84H321.80M321.70 417.82H326.30M321.70 420.16H326.30M326.20 411.90H330.80M326.20 415.56H330.80M330.70 406.51H335.30M330.70 411.54H335.30M335.20 401.46H339.80M335.20 407.90H339.80M339.70 396.68H344.30M339.70 404.55H344.30M344.20 392.10H348.80M344.20 401.41H348.80M348.70 387.69H353.30M348.70 398.46H353.30M353.20 383.44H357.80M353.20 395.65H357.80M357.70 379.31H362.30M357.70 392.97H362.30M362.20 375.30H366.80M362.20 390.39H366.80M366.70 371.40H371.30M366.70 387.91H371.30M371.20 367.60H375.80M371.20 385.50H375.80M375.70 363.89H380.30M375.70 383.16H380.30M380.20 360.27H384.80M380.20 380.89H384.80M384.70 356.73H389.30M384.70 378.67H389.30M389.20 353.26H393.80M389.20 376.50H393.80M393.70 349.87H398.30M393.70 374.38H398.30M398.20 346.54H402.80M398.20 372.30H402.80M402.70 343.28H407.30M402.70 370.26H407.30M407.20 340.07H411.80M407.20 368.25H411.80M411.70 336.93H416.30M411.70 366.28H416.30M416.20 333.84H420.80M416.20 364.34H420.80M420.70 330.81H425.30M420.70 362.42H425.30M425.20 327.82H429.80M425.20 360.54H429.80M429.70 324.89H434.30M429.70 358.68H434.30M434.20 322.00H438.80M434.20 356.85H438.80M438.70 319.15H443.30M438.70 355.04H443.30M443.20 316.35H447.80M443.20 353.25H447.80M447.70 313.59H452.30M447.70 351.48H452.30M452.20 310.87H456.80M452.20 349.74H456.80M456.70 308.19H461.30M456.70 348.02H461.30M461.20 305.54H465.80M461.20 346.31H465.80M465.70 302.93H470.30M465.70 344.62H470.30M470.20 300.35H474.80M470.20 342.96H474.80M474.70 297.81H479.30M474.70 341.31H479.30M479.20 295.30H483.80M479.20 339.67H483.80M483.70 292.81H488.30M483.70 338.06H488.30M488.20 290.36H492.80M488.20 336.46H492.80M492.70 287.94H497.30M492.70 334.88H497.30M497.20 285.55H501.80M497.20 333.31H501.80M501.70 283.18H506.30M501.70 331.76H506.30M506.20 280.84H510.80M506.20 330.22H510.80M510.70 278.53H515.30M510.70 328.70H515.30M515.20 276.24H519.80M515.20 327.19H519.80M519.70 273.97H524.30M519.70 325.70H524.30M524.20 271.73H528.80M524.20 324.22H528.80M528.70 269.51H533.30M528.70 322.75H533.30M533.20 267.31H537.80M533.20 321.30H537.80M537.70 265.14H542.30M537.70 319.86H542.30" stroke="#f59a3a" stroke-width="1.3" fill="none"/>
<polyline points="319.50,425.31 324.00,418.99 328.50,413.73 333.00,409.02 337.50,404.68 342.00,400.61 346.50,396.76 351.00,393.08 355.50,389.55 360.00,386.14 364.50,382.85 369.00,379.66 373.50,376.55 378.00,373.53 382.50,370.58 387.00,367.70 391.50,364.88 396.00,362.12 400.50,359.42 405.00,356.77 409.50,354.16 414.00,351.60 418.50,349.09 423.00,346.62 427.50,344.18 432.00,341.78 436.50,339.42 441.00,337.09 445.50,334.80 450.00,332.54 454.50,330.30 459.00,328.10 463.50,325.92 468.00,323.78 472.50,321.65 477.00,319.56 481.50,317.49 486.00,315.44 490.50,313.41 495.00,311.41 499.50,309.43 504.00,307.47 508.50,305.53 513.00,303.61 517.50,301.71 522.00,299.83 526.50,297.97 531.00,296.13 535.50,294.30 540.00,292.50" stroke="#f59a3a" stroke-width="1.2" fill="none"/>
<path d="M319.50 424.65V426.03M324.00 417.70V420.39M328.50 411.91V415.70M333.00 406.73V411.49M337.50 401.96V407.62M342.00 397.49V403.99M346.50 393.25V400.55M351.00 389.20V397.26M355.50 385.32V394.11M360.00 381.57V391.07M364.50 377.95V388.14M369.00 374.44V385.29M373.50 371.03V382.52M378.00 367.70V379.82M382.50 364.46V377.19M387.00 361.29V374.62M391.50 358.20V372.10M396.00 355.16V369.64M400.50 352.19V367.23M405.00 349.27V364.86M409.50 346.41V362.54M414.00 343.60V360.25M418.50 340.83V358.01M423.00 338.11V355.80M427.50 335.43V353.63M432.00 332.80V351.49M436.50 330.20V349.38M441.00 327.64V347.30M445.50 325.12V345.26M450.00 322.63V343.24M454.50 320.17V341.24M459.00 317.75V339.28M463.50 315.36V337.34M468.00 313.00V335.42M472.50 310.66V333.52M477.00 308.36V331.65M481.50 306.08V329.80M486.00 303.83V327.98M490.50 301.60V326.17M495.00 299.40V324.38M499.50 297.22V322.61M504.00 295.07V320.87M508.50 292.93V319.13M513.00 290.82V317.42M517.50 288.74V315.73M522.00 286.67V314.05M526.50 284.62V312.39M531.00 282.60V310.74M535.50 280.59V309.12M540.00 278.60V307.50" stroke="#2626f2" stroke-width="1" fill="none"/>
<path d="M317.20 424.65H321.80M317.20 426.03H321.80M321.70 417.70H326.30M321.70 420.39H326.30M326.20 411.91H330.80M326.20 415.70H330.80M330.70 406.73H335.30M330.70 411.49H335.30M335.20 401.96H339.80M335.20 407.62H339.80M339.70 397.49H344.30M339.70 403.99H344.30M344.20 393.25H348.80M344.20 400.55H348.80M348.70 389.20H353.30M348.70 397.26H353.30M353.20 385.32H357.80M353.20 394.11H357.80M357.70 381.57H362.30M357.70 391.07H362.30M362.20 377.95H366.80M362.20 388.14H366.80M366.70 374.44H371.30M366.70 385.29H371.30M371.20 371.03H375.80M371.20 382.52H375.80M375.70 367.70H380.30M375.70 379.82H380.30M380.20 364.46H384.80M380.20 377.19H384.80M384.70 361.29H389.30M384.70 374.62H389.30M389.20 358.20H393.80M389.20 372.10H393.80M393.70 355.16H398.30M393.70 369.64H398.30M398.20 352.19H402.80M398.20 367.23H402.80M402.70 349.27H407.30M402.70 364.86H407.30M407.20 346.41H411.80M407.20 362.54H411.80M411.70 343.60H416.30M411.70 360.25H416.30M416.20 340.83H420.80M416.20 358.01H420.80M420.70 338.11H425.30M420.70 355.80H425.30M425.20 335.43H429.80M425.20 353.63H429.80M429.70 332.80H434.30M429.70 351.49H434.30M434.20 330.20H438.80M434.20 349.38H438.80M438.70 327.64H443.30M438.70 347.30H443.30M443.20 325.12H447.80M443.20 345.26H447.80M447.70 322.63H452.30M447.70 343.24H452.30M452.20 320.17H456.80M452.20 341.24H456.80M456.70 317.75H461.30M456.70 339.28H461.30M461.20 315.36H465.80M461.20 337.34H465.80M465.70 313.00H470.30M465.70 335.42H470.30M470.20 310.66H474.80M470.20 333.52H474.80M474.70 308.36H479.30M474.70 331.65H479.30M479.20 306.08H483.80M479.20 329.80H483.80M483.70 303.83H488.30M483.70 327.98H488.30M488.20 301.60H492.80M488.20 326.17H492.80M492.70 299.40H497.30M492.70 324.38H497.30M497.20 297.22H501.80M497.20 322.61H501.80M501.70 295.07H506.30M501.70 320.87H506.30M506.20 292.93H510.80M506.20 319.13H510.80M510.70 290.82H515.30M510.70 317.42H515.30M515.20 288.74H519.80M515.20 315.73H519.80M519.70 286.67H524.30M519.70 314.05H524.30M524.20 284.62H528.80M524.20 312.39H528.80M528.70 282.60H533.30M528.70 310.74H533.30M533.20 280.59H537.80M533.20 309.12H537.80M537.70 278.60H542.30M537.70 307.50H542.30" stroke="#2626f2" stroke-width="1.3" fill="none"/>
<polyline points="319.50,425.34 324.00,419.04 328.50,413.80 333.00,409.11 337.50,404.79 342.00,400.74 346.50,396.90 351.00,393.23 355.50,389.72 360.00,386.32 364.50,383.04 369.00,379.86 373.50,376.77 378.00,373.76 382.50,370.82 387.00,367.95 391.50,365.15 396.00,362.40 400.50,359.71 405.00,357.07 409.50,354.47 414.00,351.92 418.50,349.42 423.00,346.96 427.50,344.53 432.00,342.14 436.50,339.79 441.00,337.47 445.50,335.19 450.00,332.93 454.50,330.71 459.00,328.51 463.50,326.35 468.00,324.21 472.50,322.09 477.00,320.01 481.50,317.94 486.00,315.90 490.50,313.88 495.00,311.89 499.50,309.92 504.00,307.97 508.50,306.03 513.00,304.12 517.50,302.23 522.00,300.36 526.50,298.51 531.00,296.67 535.50,294.85 540.00,293.05" stroke="#2626f2" stroke-width="1.2" fill="none"/>
<path d="M319.50 423.70V424.02M324.00 415.82V416.49M328.50 409.15V410.32M333.00 403.12V404.85M337.50 397.50V399.85M342.00 392.20V395.19M346.50 387.14V390.81M351.00 382.28V386.64M355.50 377.60V382.65M360.00 373.06V378.81M364.50 368.66V375.11M369.00 364.38V371.52M373.50 360.20V368.03M378.00 356.13V364.64M382.50 352.15V361.33M387.00 348.25V358.10M391.50 344.44V354.93M396.00 340.70V351.82M400.50 337.03V348.78M405.00 333.42V345.79M409.50 329.88V342.85M414.00 326.40V339.95M418.50 322.98V337.10M423.00 319.60V334.29M427.50 316.28V331.52M432.00 313.01V328.79M436.50 309.79V326.10M441.00 306.61V323.43M445.50 303.47V320.81M450.00 300.38V318.21M454.50 297.32V315.64M459.00 294.30V313.10M463.50 291.32V310.59M468.00 288.38V308.11M472.50 285.46V305.65M477.00 282.58V303.22M481.50 279.74V300.81M486.00 276.92V298.42M490.50 274.13V296.06M495.00 271.37V293.72M499.50 268.64V291.41M504.00 265.94V289.11M508.50 263.26V286.83M513.00 260.61V284.58M517.50 257.98V282.34M522.00 255.38V280.12M526.50 252.80V277.92M531.00 250.24V275.74M535.50 247.71V273.58M540.00 245.19V271.44" stroke="#f31c1c" stroke-width="1" fill="none"/>
<path d="M317.20 423.70H321.80M317.20 424.02H321.80M321.70 415.82H326.30M321.70 416.49H326.30M326.20 409.15H330.80M326.20 410.32H330.80M330.70 403.12H335.30M330.70 404.85H335.30M335.20 397.50H339.80M335.20 399.85H339.80M339.70 392.20H344.30M339.70 395.19H344.30M344.20 387.14H348.80M344.20 390.81H348.80M348.70 382.28H353.30M348.70 386.64H353.30M353.20 377.60H357.80M353.20 382.65H357.80M357.70 373.06H362.30M357.70 378.81H362.30M362.20 368.66H366.80M362.20 375.11H366.80M366.70 364.38H371.30M366.70 371.52H371.30M371.20 360.20H375.80M371.20 368.03H375.80M375.70 356.13H380.30M375.70 364.64H380.30M380.20 352.15H384.80M380.20 361.33H384.80M384.70 348.25H389.30M384.70 358.10H389.30M389.20 344.44H393.80M389.20 354.93H393.80M393.70 340.70H398.30M393.70 351.82H398.30M398.20 337.03H402.80M398.20 348.78H402.80M402.70 333.42H407.30M402.70 345.79H407.30M407.20 329.88H411.80M407.20 342.85H411.80M411.70 326.40H416.30M411.70 339.95H416.30M416.20 322.98H420.80M416.20 337.10H420.80M420.70 319.60H425.30M420.70 334.29H425.30M425.20 316.28H429.80M425.20 331.52H429.80M429.70 313.01H434.30M429.70 328.79H434.30M434.20 309.79H438.80M434.20 326.10H438.80M438.70 306.61H443.30M438.70 323.43H443.30M443.20 303.47H447.80M443.20 320.81H447.80M447.70 300.38H452.30M447.70 318.21H452.30M452.20 297.32H456.80M452.20 315.64H456.80M456.70 294.30H461.30M456.70 313.10H461.30M461.20 291.32H465.80M461.20 310.59H465.80M465.70 288.38H470.30M465.70 308.11H470.30M470.20 285.46H474.80M470.20 305.65H474.80M474.70 282.58H479.30M474.70 303.22H479.30M479.20 279.74H483.80M479.20 300.81H483.80M483.70 276.92H488.30M483.70 298.42H488.30M488.20 274.13H492.80M488.20 296.06H492.80M492.70 271.37H497.30M492.70 293.72H497.30M497.20 268.64H501.80M497.20 291.41H501.80M501.70 265.94H506.30M501.70 289.11H506.30M506.20 263.26H510.80M506.20 286.83H510.80M510.70 260.61H515.30M510.70 284.58H515.30M515.20 257.98H519.80M515.20 282.34H519.80M519.70 255.38H524.30M519.70 280.12H524.30M524.20 252.80H528.80M524.20 277.92H528.80M528.70 250.24H533.30M528.70 275.74H533.30M533.20 247.71H537.80M533.20 273.58H537.80M537.70 245.19H542.30M537.70 271.44H542.30" stroke="#f31c1c" stroke-width="1.3" fill="none"/>
<polyline points="319.50,423.86 324.00,416.15 328.50,409.73 333.00,403.98 337.50,398.68 342.00,393.70 346.50,388.97 351.00,384.46 355.50,380.12 360.00,375.93 364.50,371.88 369.00,367.95 373.50,364.12 378.00,360.39 382.50,356.74 387.00,353.17 391.50,349.68 396.00,346.26 400.50,342.90 405.00,339.61 409.50,336.36 414.00,333.18 418.50,330.04 423.00,326.95 427.50,323.90 432.00,320.90 436.50,317.94 441.00,315.02 445.50,312.14 450.00,309.29 454.50,306.48 459.00,303.70 463.50,300.96 468.00,298.24 472.50,295.56 477.00,292.90 481.50,290.27 486.00,287.67 490.50,285.10 495.00,282.55 499.50,280.02 504.00,277.52 508.50,275.05 513.00,272.59 517.50,270.16 522.00,267.75 526.50,265.36 531.00,262.99 535.50,260.64 540.00,258.31" stroke="#f31c1c" stroke-width="1.2" fill="none"/>
<text x="429.95" y="449.20" font-size="9" font-weight="bold" fill="#111" text-anchor="middle">Sequences per sample</text>
<text transform="translate(292.10,337.20) rotate(-90)" font-size="8.9" font-weight="bold" fill="#111" text-anchor="middle">Observed species</text>
</svg></body></html>
